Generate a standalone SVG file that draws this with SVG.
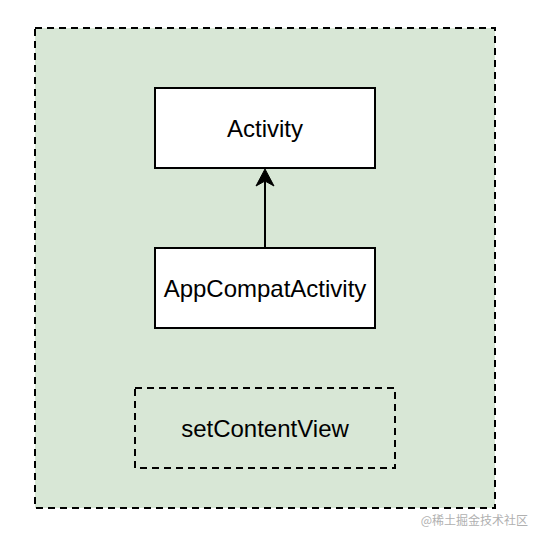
<svg xmlns="http://www.w3.org/2000/svg" width="536" height="540" viewBox="0 0 536 540">
<style>
.box{fill:#ffffff;stroke:#000000;stroke-width:2}
.dash{stroke:#000000;stroke-width:2;stroke-dasharray:7 5}
.lbl{font-family:"Liberation Sans",Arial,sans-serif;font-size:24px;fill:#000000;text-anchor:middle}
</style>
<rect width="536" height="540" fill="#ffffff"/>
<g id="container">
<rect x="35" y="28" width="460" height="480" fill="#d8e7d6" class="dash"/>
</g>
<g id="activity">
<rect x="155" y="88" width="220" height="80" class="box"/>
<text x="265" y="136.5" class="lbl">Activity</text>
</g>
<g id="appcompat">
<rect x="155" y="248" width="220" height="80" class="box"/>
<text x="265" y="296.5" class="lbl">AppCompatActivity</text>
</g>
<g id="setcontentview">
<rect x="135" y="388" width="260" height="80" fill="none" class="dash"/>
<text x="265" y="436.5" class="lbl">setContentView</text>
</g>
<g id="connectors">
<line x1="265" y1="248" x2="265" y2="180" stroke="#000000" stroke-width="2"/>
<path d="M265,169 L274,186 L265,181 L256,186 Z" fill="#000000" stroke="#000000" stroke-width="1"/>
</g>
<text x="528" y="525" font-family="'Noto Sans CJK SC',sans-serif" font-size="12" fill="#b0b0b0" text-anchor="end">@稀土掘金技术社区</text>
</svg>
